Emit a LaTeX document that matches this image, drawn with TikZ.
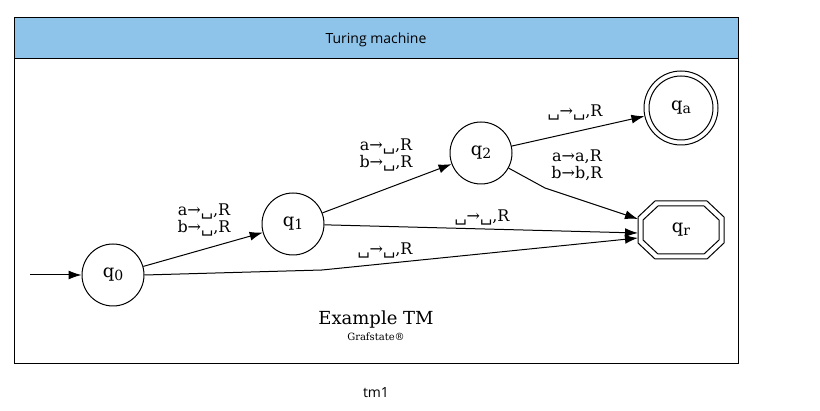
\documentclass[tikz,border=0pt]{standalone}
\usepackage{fontspec}
\setmainfont{DejaVu Serif}
\newfontfamily\osans{Open Sans}
\usetikzlibrary{arrows.meta}
\begin{document}
\begin{tikzpicture}[x=1pt,y=-1pt,line width=1pt,
  st/.style={circle,draw,minimum size=62pt,inner sep=0pt,font=\fontsize{18}{20}\selectfont},
  lab/.style={font=\fontsize{16}{17}\selectfont,align=center,inner sep=1pt},
  ed/.style={draw,-{Latex[length=13pt,width=9pt]}}]
\useasboundingbox (0,0) rectangle (820,411);
\fill[fill=white] (0,0) rectangle (820,411);
\fill[fill={rgb,255:red,142;green,195;blue,234}] (14,18) rectangle (738,59);
\draw (14,18) rectangle (738,364);
\draw (14,59) -- (738,59);
\node[font=\osans\fontsize{14}{16}\selectfont] (title) at (376,40) {Turing machine};
\node[font=\osans\fontsize{14}{16}\selectfont] (name) at (376,393) {tm1};
\node[st] (q0) at (113,275) {q\raisebox{-3pt}{\fontsize{14}{14}\selectfont 0}};
\node[st] (q1) at (293,224) {q\raisebox{-3pt}{\fontsize{14}{14}\selectfont 1}};
\node[st] (q2) at (481,153) {q\raisebox{-3pt}{\fontsize{14}{14}\selectfont 2}};
\node[st,minimum size=74pt] (qa) at (681,108) {};
\node[circle,draw,minimum size=64pt,inner sep=0pt,font=\fontsize{18}{20}\selectfont] (qai) at (681,108) {q\raisebox{-3pt}{\fontsize{14}{14}\selectfont a}};
\node[minimum width=88pt,minimum height=62pt,inner sep=0pt,font=\fontsize{18}{20}\selectfont] (qr) at (681,230) {q\raisebox{-3pt}{\fontsize{14}{14}\selectfont r}};
\draw (655,201)--(707,201)--(724,217)--(724,243)--(707,259)--(655,259)--(638,243)--(638,217)--cycle;
\draw (658,206)--(704,206)--(719,220)--(719,240)--(704,254)--(658,254)--(643,240)--(643,220)--cycle;
\coordinate (s) at (30,275);
\coordinate (k2) at (545,188);
\coordinate (k0) at (322,270);
\path[ed] (s) -- (q0);
\path[ed] (q0) -- (q1);
\path[ed] (q1) -- (q2);
\path[ed] (q2) -- (qa);
\draw (q2) -- (k2);
\path[ed] (k2) -- (638,219);
\path[ed] (q1) -- (638,233);
\draw (q0.east) -- (k0);
\path[ed] (k0) -- (638,238);
\node[lab] (l01) at (204,220) {a→␣,R\\b→␣,R};
\node[lab] (l12) at (386,155) {a→␣,R\\b→␣,R};
\node[lab] (l2a) at (575,112) {␣→␣,R};
\node[lab] (l2r) at (577,165) {a→a,R\\b→b,R};
\node[lab] (l1r) at (482,217) {␣→␣,R};
\node[lab] (l0r) at (385,250) {␣→␣,R};
\node[font=\fontsize{18}{20}\selectfont] (ex) at (376,320) {Example TM};
\node[font=\fontsize{10}{11}\selectfont] (gs) at (376,337) {Grafstate®};
\end{tikzpicture}
\end{document}
